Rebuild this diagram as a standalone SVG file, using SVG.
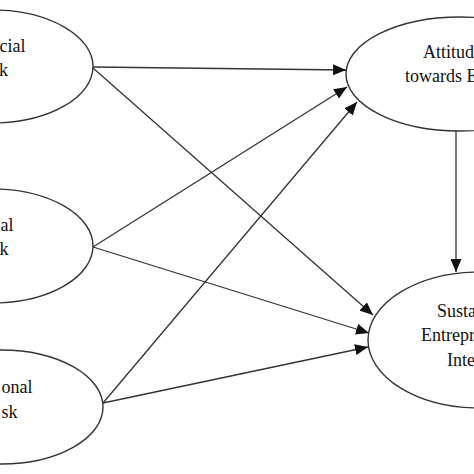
<svg xmlns="http://www.w3.org/2000/svg" width="474" height="474" viewBox="0 0 474 474">
<style>
.node{fill:#ffffff;stroke:#333333;stroke-width:1.4}
.lbl{font-family:"Liberation Serif","Times New Roman",serif;font-size:18px;fill:#111111}
.end{text-anchor:end}
.conn{stroke:#333333;stroke-width:1.3;fill:none;marker-end:url(#arr)}
</style>
<defs>
<marker id="arr" markerUnits="userSpaceOnUse" markerWidth="13" markerHeight="11" refX="13" refY="5.5" orient="auto">
<path d="M0,0 L13,5.5 L0,11 z" fill="#111111"/>
</marker>
</defs>
<rect width="474" height="474" fill="#ffffff"/>
<g id="financial-risk">
<ellipse class="node" cx="-8" cy="66.5" rx="101" ry="56.5"/>
<text class="lbl end" x="25.5" y="52">cial</text>
<text class="lbl end" x="8" y="76">k</text>
</g>
<g id="social-risk">
<ellipse class="node" cx="-8" cy="246" rx="101" ry="57"/>
<text class="lbl end" x="13.5" y="231">al</text>
<text class="lbl end" x="8.5" y="255">k</text>
</g>
<g id="personal-risk">
<ellipse class="node" cx="1" cy="407" rx="102" ry="57"/>
<text class="lbl end" x="32.5" y="393">onal</text>
<text class="lbl end" x="17.5" y="418">sk</text>
</g>
<g id="attitude">
<ellipse class="node" cx="460" cy="74" rx="114" ry="57"/>
<text class="lbl" x="423" y="58">Attitud</text>
<text class="lbl" x="405" y="82">towards E</text>
</g>
<g id="intention">
<ellipse class="node" cx="480" cy="340" rx="112" ry="68"/>
<text class="lbl" x="437" y="317">Susta</text>
<text class="lbl" x="421" y="341">Entrepr</text>
<text class="lbl" x="447" y="366">Inte</text>
</g>
<g id="connectors">
<line class="conn" x1="93" y1="67" x2="346" y2="70"/>
<line class="conn" x1="93" y1="68" x2="373" y2="315"/>
<line class="conn" x1="93" y1="247" x2="347" y2="87"/>
<line class="conn" x1="93" y1="247" x2="369" y2="333"/>
<line class="conn" x1="103" y1="403" x2="357" y2="102"/>
<line class="conn" x1="103" y1="403" x2="368" y2="347"/>
<line class="conn" x1="456" y1="131" x2="456" y2="272"/>
</g>
</svg>
